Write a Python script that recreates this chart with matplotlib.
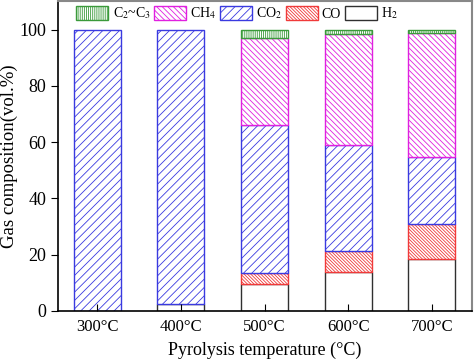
import matplotlib
matplotlib.use("Agg")
import matplotlib.pyplot as plt
import numpy as np

plt.rcParams['font.family'] = ['Liberation Serif', 'DejaVu Serif']
plt.rcParams['mathtext.fontset'] = 'stix'
plt.rcParams['hatch.linewidth'] = 0.6

categories = ['300°C', '400°C', '500°C', '600°C', '700°C']
H2 = [0.0, 2.6, 9.7, 13.8, 18.3]
CO = [0.0, 0.0, 3.8, 7.5, 12.4]
CO2 = [100.0, 97.4, 52.4, 37.7, 23.9]
CH4 = [0.0, 0.0, 31.0, 39.6, 44.2]
C2C3 = [0.0, 0.0, 3.1, 1.4, 1.2]

series = [
    ('H$_2$', H2, 'white', '#303030', ''),
    ('CO', CO, 'white', '#f03a3a', '\\' * 10),
    ('CO$_2$', CO2, 'white', '#3a3ae0', '////'),
    ('CH$_4$', CH4, 'white', '#e020e0', '\\' * 6),
    ('C$_2$~C$_3$', C2C3, 'white', '#3a9a3a', '|' * 8),
]

fig = plt.figure(figsize=(4.74, 3.61), dpi=100)
ax = fig.add_axes([0.122, 0.139, 0.874, 0.857])
x = np.arange(len(categories))
bottom = np.zeros(len(categories))
handles = {}
for name, vals, fc, ec, hatch in series:
    vals = np.array(vals)
    mask = vals > 0
    b = ax.bar(x[mask], vals[mask], width=0.56, bottom=bottom[mask], color=fc,
               edgecolor=ec, hatch=hatch, linewidth=1.0, label=name)
    handles[name] = b
    bottom += vals

order = ['C$_2$~C$_3$', 'CH$_4$', 'CO$_2$', 'CO', 'H$_2$']
ax.legend([handles[n] for n in order], order, loc='upper left', ncol=5,
          frameon=False, fontsize=10, handlelength=2.3, handleheight=1.1,
          columnspacing=0.25, handletextpad=0.3, borderaxespad=0.0,
          borderpad=0.3, bbox_to_anchor=(0.035, 1.0))

ax.set_xlim(-0.47, 4.48)
ax.set_ylim(0, 110)
ax.set_yticks([0, 20, 40, 60, 80, 100])
ax.set_xticks(x)
ax.set_xticklabels(categories)
ax.tick_params(axis='y', direction='out', length=5, labelsize=13)
ax.tick_params(axis='x', direction='in', length=5, labelsize=12, pad=6)
ax.set_xlabel('Pyrolysis temperature (°C)', fontsize=13, labelpad=5)
ax.set_ylabel('Gas composition(vol.%)', fontsize=13.5, labelpad=1)
for s in ['left', 'bottom']:
    ax.spines[s].set_linewidth(1.2)
for s in ['top', 'right']:
    ax.spines[s].set_color('#888888')
    ax.spines[s].set_linewidth(1.5)

fig.savefig('out.png', dpi=100)
